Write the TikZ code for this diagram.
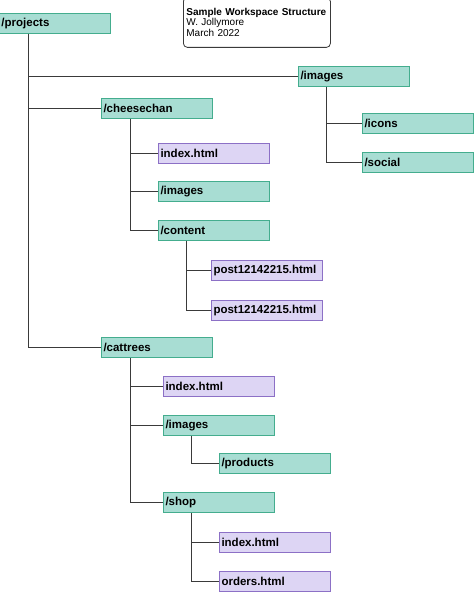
\documentclass[tikz,border=0pt]{standalone}
\usepackage{fontspec}
\setmainfont{Liberation Sans}
\definecolor{tealfill}{HTML}{A8DDD3}
\definecolor{tealdraw}{HTML}{44AD8E}
\definecolor{purpfill}{HTML}{DDD5F4}
\definecolor{purpdraw}{HTML}{8C70C6}
\definecolor{linec}{HTML}{3A3A3A}
\begin{document}
\begin{tikzpicture}[x=1pt,y=-1pt,
  box/.style={rectangle, draw, line width=1pt, minimum height=20pt, text width=107pt,
    inner xsep=2pt, inner ysep=0pt, anchor=north west, align=left,
    font=\fontsize{11.5}{13}\selectfont\bfseries},
  folder/.style={box, fill=tealfill, draw=tealdraw},
  file/.style={box, fill=purpfill, draw=purpdraw},
  conn/.style={draw=linec, line width=1pt}]
\useasboundingbox (0,0) rectangle (474,593);
\fill[white] (0,0) rectangle (474,593);
% title
\node[draw=linec, rounded corners=4pt, line width=0.8pt, anchor=north west,
  minimum width=147pt, minimum height=50pt, inner xsep=3pt, inner ysep=0pt,
  text width=141pt, align=left, font=\fontsize{10}{10.5}\selectfont] (title) at (183,-3)
  {\textbf{Sample Workspace Structure}\\W. Jollymore\\March 2022};
% nodes
\node[folder] (projects) at (-1,13) {/projects};
\node[folder] (images) at (298,66) {/images};
\node[folder] (icons) at (362,113) {/icons};
\node[folder] (social) at (362,152) {/social};
\node[folder] (cheese) at (101,98) {/cheesechan};
\node[file] (cindex) at (158,143) {index.html};
\node[folder] (cimages) at (158,181) {/images};
\node[folder] (content) at (158,220) {/content};
\node[file] (post1) at (211,260) {post12142215.html};
\node[file] (post2) at (211,300) {post12142215.html};
\node[folder] (cat) at (101,337) {/cattrees};
\node[file] (tindex) at (163,376) {index.html};
\node[folder] (timages) at (163,415) {/images};
\node[folder] (products) at (219,453) {/products};
\node[folder] (shop) at (163,492) {/shop};
\node[file] (sindex) at (219,532) {index.html};
\node[file] (orders) at (219,571) {orders.html};
% connectors
\draw[conn] ([xshift=29pt]projects.south west) |- (images.west);
\draw[conn] ([xshift=29pt]projects.south west) |- (cheese.west);
\draw[conn] ([xshift=29pt]projects.south west) |- (cat.west);
\draw[conn] ([xshift=28pt]images.south west) |- (icons.west);
\draw[conn] ([xshift=28pt]images.south west) |- (social.west);
\draw[conn] ([xshift=29pt]cheese.south west) |- (cindex.west);
\draw[conn] ([xshift=29pt]cheese.south west) |- (cimages.west);
\draw[conn] ([xshift=29pt]cheese.south west) |- (content.west);
\draw[conn] ([xshift=28pt]content.south west) |- (post1.west);
\draw[conn] ([xshift=28pt]content.south west) |- (post2.west);
\draw[conn] ([xshift=29pt]cat.south west) |- (tindex.west);
\draw[conn] ([xshift=29pt]cat.south west) |- (timages.west);
\draw[conn] ([xshift=29pt]cat.south west) |- (shop.west);
\draw[conn] ([xshift=28pt]timages.south west) |- (products.west);
\draw[conn] ([xshift=28pt]shop.south west) |- (sindex.west);
\draw[conn] ([xshift=28pt]shop.south west) |- (orders.west);
\end{tikzpicture}
\end{document}
